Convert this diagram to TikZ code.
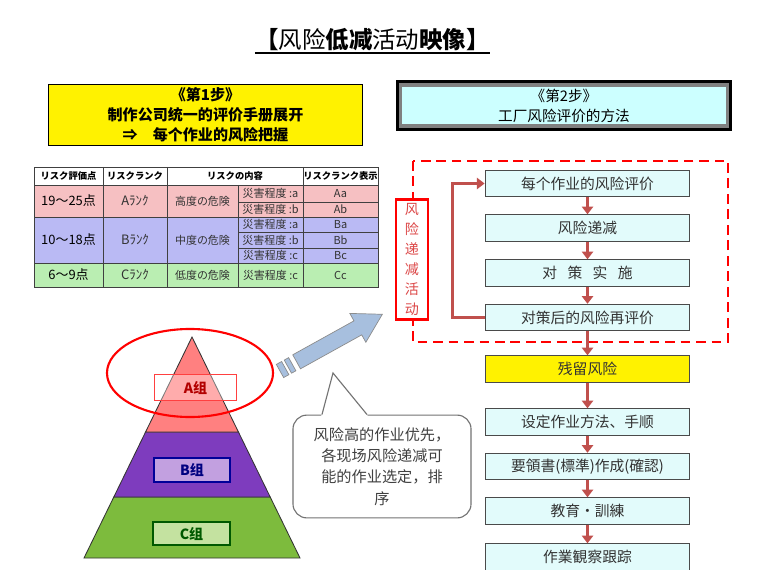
\documentclass[tikz,border=0pt]{standalone}
\usepackage{fontspec}
\setmainfont{Noto Sans CJK SC}
\newfontfamily\jpfont{Noto Sans CJK JP}
\usetikzlibrary{arrows.meta,calc}

\definecolor{arrowred}{HTML}{C0504D}
\definecolor{flowfill}{HTML}{E2FBFB}
\definecolor{flowline}{HTML}{4A4A4A}
\definecolor{stepcyan}{HTML}{CCFFFF}
\definecolor{rowA}{HTML}{F6C0C2}
\definecolor{rowB}{HTML}{BABAF4}
\definecolor{rowC}{HTML}{BAEEB2}
\definecolor{pyrA}{HTML}{FF8080}
\definecolor{pyrB}{HTML}{7E3CBE}
\definecolor{pyrC}{HTML}{7DBB3D}
\definecolor{bigarrow}{HTML}{A7BFDE}
\definecolor{redtext}{HTML}{DC4646}

\tikzset{
  flowbox/.style={draw=flowline, fill=flowfill, line width=0.7pt, minimum width=5.12cm,
    minimum height=0.66cm, inner sep=0pt, text=black!80, font=\fontsize{10.5}{12}\selectfont},
  flowarrow/.style={draw=arrowred, line width=2.1pt, -{Triangle[width=8pt,length=5.5pt]}},
  tableline/.style={draw=black!75, line width=0.6pt},
  cellhead/.style={inner sep=0pt, font=\jpfont\bfseries\fontsize{6.6}{7}\selectfont},
  cell/.style={inner sep=0pt, font=\jpfont\fontsize{7.8}{8}\selectfont, text=black!80},
  cellrank/.style={inner sep=0pt, font=\jpfont\fontsize{9.2}{10}\selectfont, text=black!80},
  cellscore/.style={inner sep=0pt, font=\jpfont\fontsize{9.2}{10}\selectfont},
  pyr/.style={draw=black!80, line width=0.6pt},
  grouplabel/.style={inner sep=0pt, line width=0.8pt, font=\bfseries\fontsize{10}{11}\selectfont},
  arrowpart/.style={fill=bigarrow, draw=black!45, line width=0.5pt}
}

\begin{document}
\begin{tikzpicture}[x=0.025cm, y=-0.025cm]
	\clip (0,0) rectangle (760,570);
	\fill[white] (0,0) rectangle (760,570);

	%Title
	\node[inner sep=0pt, font=\fontsize{16.7}{18}\selectfont] (title) at (372.5,40)
		{\textbf{【}风险\textbf{低减}活动\textbf{映像】}};
	\draw[line width=1pt] ([yshift=-3pt]title.base west) -- ([yshift=-3pt]title.base east);

	%Step boxes
	\node[draw=black, line width=1.1pt, fill=yellow, minimum width=7.85cm, minimum height=1.53cm,
		align=center, inner sep=0pt, font=\bfseries\fontsize{10.7}{14.2}\selectfont] (step1) at (205.5,115)
		{《第1步》\\制作公司统一的评价手册展开\\⇒\quad 每个作业的风险把握};
	\node[draw=black!50, line width=3.6pt, fill=stepcyan, minimum width=8.2cm, minimum height=1.07cm,
		align=center, inner sep=0pt, font=\fontsize{10.4}{14.2}\selectfont] (step2) at (564,105.5)
		{《第2步》\\工厂风险评价的方法};
	\draw[black, line width=1.9pt] (step2.north west) rectangle (step2.south east);

	%Table
	\fill[rowA] (34,185) rectangle (378,217);
	\fill[rowB] (34,217) rectangle (378,263);
	\fill[rowC] (34,263) rectangle (378,287);
	\foreach \y in {185,217,263} \draw[tableline] (34,\y) -- (378,\y);
	\foreach \y in {202,232,248} \draw[tableline] (238,\y) -- (378,\y);
	\foreach \x in {103,167,303} \draw[tableline] (\x,167) -- (\x,287);
	\draw[tableline] (238,185) -- (238,287);
	\draw[tableline] (34,167) rectangle (378,287);

	\node[cellhead] (head1) at (68.5,176) {リスク評価点};
	\node[cellhead] (head2) at (135,176) {リスクランク};
	\node[cellhead] (head3) at (235,176) {リスクの内容};
	\node[cellhead] (head4) at (340.5,176) {リスクランク表示};

	\node[cellscore] (scoreA) at (68.5,201) {19～25点};
	\node[cellrank] (rankA) at (135,201) {Aﾗﾝｸ};
	\node[cell] (riskA) at (202.5,201) {高度の危険};
	\node[cell] (degAa) at (270.5,193.5) {災害程度 :a};
	\node[cell] (degAb) at (270.5,209.5) {災害程度 :b};
	\node[cell] (showAa) at (340.5,193.5) {Aa};
	\node[cell] (showAb) at (340.5,209.5) {Ab};

	\node[cellscore] (scoreB) at (68.5,240) {10～18点};
	\node[cellrank] (rankB) at (135,240) {Bﾗﾝｸ};
	\node[cell] (riskB) at (202.5,240) {中度の危険};
	\node[cell] (degBa) at (270.5,224.5) {災害程度 :a};
	\node[cell] (degBb) at (270.5,240) {災害程度 :b};
	\node[cell] (degBc) at (270.5,255.5) {災害程度 :c};
	\node[cell] (showBa) at (340.5,224.5) {Ba};
	\node[cell] (showBb) at (340.5,240) {Bb};
	\node[cell] (showBc) at (340.5,255.5) {Bc};

	\node[cellscore] (scoreC) at (68.5,275) {6～9点};
	\node[cellrank] (rankC) at (135,275) {Cﾗﾝｸ};
	\node[cell] (riskC) at (202.5,275) {低度の危険};
	\node[cell] (degCc) at (270.5,275) {災害程度 :c};
	\node[cell] (showCc) at (340.5,275) {Cc};

	%Pyramid
	\coordinate (apex) at (192,337);
	\coordinate (baseL) at (84,558);
	\coordinate (baseR) at (300,558);
	\filldraw[pyr, fill=pyrC] ($(apex)!0.724!(baseL)$) -- ($(apex)!0.724!(baseR)$) -- (baseR) -- (baseL) -- cycle;
	\filldraw[pyr, fill=pyrB] ($(apex)!0.43!(baseL)$) -- ($(apex)!0.43!(baseR)$)
		-- ($(apex)!0.724!(baseR)$) -- ($(apex)!0.724!(baseL)$) -- cycle;
	\filldraw[pyr, fill=pyrA] (apex) -- ($(apex)!0.43!(baseR)$) -- ($(apex)!0.43!(baseL)$) -- cycle;

	\node[grouplabel, draw=red!75, fill=white, fill opacity=0.35, text opacity=1, text=red!70!black,
		minimum width=2.07cm, minimum height=0.67cm] (groupA) at (195.5,387.5) {A组};
	\node[grouplabel, draw=blue!60!black, fill={rgb,255:red,194;green,160;blue,224}, text=blue!50!black,
		minimum width=1.9cm, minimum height=0.6cm] (groupB) at (192,470) {B组};
	\node[grouplabel, draw=green!35!black, line width=1pt, fill={rgb,255:red,196;green,226;blue,160},
		text=green!35!black, minimum width=1.92cm, minimum height=0.57cm] (groupC) at (191.5,533.5) {C组};
	\draw[red, line width=1.5pt] (190,373) ellipse [x radius=2.075cm, y radius=1.1cm];

	%Big arrow
	\begin{scope}[shift={(280,371)}, rotate=29]
		\filldraw[arrowpart] (0,-7.5) rectangle (6,7.5);
		\filldraw[arrowpart] (9,-7.5) rectangle (14,7.5);
		\filldraw[arrowpart] (19,-8) -- (89,-8) -- (89,-16.5) -- (117,0) -- (89,16.5) -- (89,8) -- (19,8) -- cycle;
	\end{scope}

	%Callout
	\coordinate (notetip) at (333,373);
	\node[draw=black!55, line width=0.8pt, fill=white, rounded corners=3.5mm, minimum width=4.45cm,
		minimum height=2.57cm, inner sep=0pt, align=center, text=black!75,
		font=\fontsize{10.8}{15.2}\selectfont] (note) at (382,466.5)
		{风险高的作业优先，\\各现场风险递减可\\能的作业选定，排\\序};
	\fill[white] ([xshift=-1.52cm,yshift=-1.2pt]note.north) -- (notetip) -- ([xshift=-0.35cm,yshift=-1.2pt]note.north) -- cycle;
	\draw[black!55, line width=0.8pt] ([xshift=-1.5cm]note.north) -- (notetip) -- ([xshift=-0.375cm]note.north);

	%Step 2 flow
	\draw[red, line width=1.4pt, dash pattern=on 7pt off 4pt] (413,161) rectangle (728,342);
	\node[draw=red, line width=1.5pt, fill=white, minimum width=0.82cm, minimum height=3.0cm,
		inner sep=0pt, align=center, text=redtext, font=\fontsize{10}{14.3}\selectfont] (activity) at (412,259.5)
		{风\\险\\递\\减\\活\\动};

	\node[flowbox] (eval) at (587.5,183.5) {每个作业的风险评价};
	\node[flowbox] (reduce) at (587.5,228) {风险递减};
	\node[flowbox] (measure) at (587.5,273) {对\hspace{0.7em}策\hspace{0.7em}实\hspace{0.7em}施};
	\node[flowbox] (reeval) at (587.5,317.5) {对策后的风险再评价};
	\node[flowbox, fill=yellow] (residual) at (587.5,369) {残留风险};
	\node[flowbox] (method) at (587.5,422) {设定作业方法、手顺};
	\node[flowbox] (manual) at (587.5,466.5) {\jpfont 要領書(標準)作成(確認)};
	\node[flowbox] (training) at (587.5,511) {\jpfont 教育・訓練};
	\node[flowbox] (observe) at (587.5,557) {\jpfont 作業観察跟踪};

	%Arrows
	\draw[flowarrow] (eval) -- (reduce);
	\draw[flowarrow] (reduce) -- (measure);
	\draw[flowarrow] (measure) -- (reeval);
	\draw[flowarrow] (reeval) -- (residual);
	\draw[flowarrow] (residual) -- (method);
	\draw[flowarrow] (method) -- (manual);
	\draw[flowarrow] (manual) -- (training);
	\draw[flowarrow] (training) -- (observe);
	\draw[flowarrow, line width=2.5pt] (reeval.west) -- ++(-32,0) |- (eval.west);
\end{tikzpicture}
\end{document}
